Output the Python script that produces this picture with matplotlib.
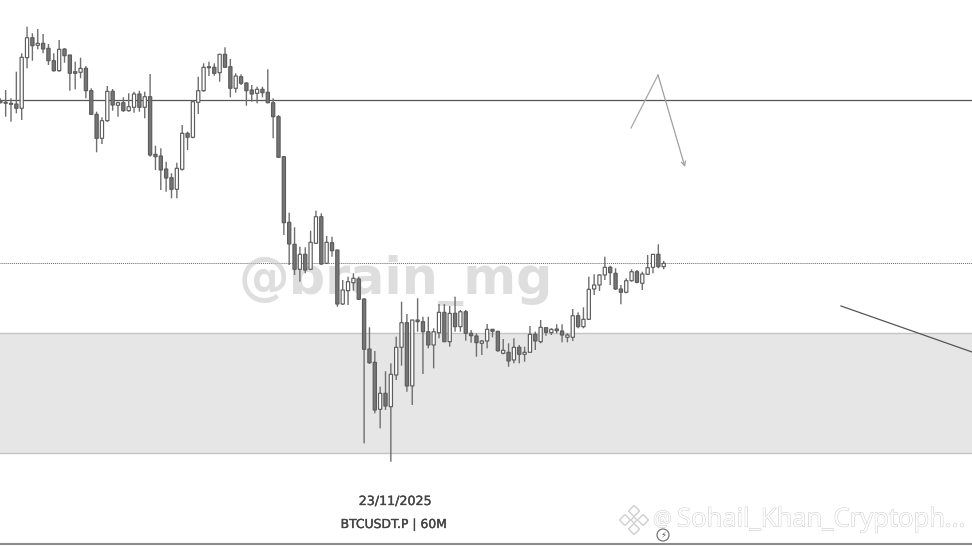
import matplotlib
matplotlib.use("Agg")
import matplotlib.pyplot as plt
import matplotlib.patheffects as pe
from matplotlib.patches import Circle, RegularPolygon
import numpy as np

# no price axis on the chart, so levels are in arbitrary chart units
opens = [445, 442.7, 442.7, 442, 437.7, 488.3, 508.3, 500.7, 502.7, 497.7, 485.3, 475.3, 497, 491, 474.3, 473.7, 477.7, 455.3, 431.7, 407.7,
         425.3, 454.7, 440.7, 443.3, 435.3, 438.7, 452, 438.7, 449.3, 391.7, 390, 377, 368.3, 356.7, 376.7, 412.7, 408.7, 443.7, 455.3, 478.3,
         478.7, 473.3, 491.7, 479.3, 457.7, 469.3, 463, 456, 452.7, 456.7, 453.7, 443.3, 429.3, 389.3, 323.7, 301.7, 276.7, 291.7, 276.7, 302.7,
         329.3, 282.7, 303.3, 296, 242, 255.3, 263.3, 267, 247, 197, 183.7, 136.7, 152.7, 139.3, 171, 198.7, 223.3, 160, 226, 224.3,
         214.3, 201, 213.3, 233.7, 204.3, 232.7, 219.3, 234.3, 212.7, 210, 202.7, 205, 216.7, 214.7, 192.7, 193.7, 186, 198.7, 191.7, 193.7,
         211.7, 204.3, 218.3, 213.3, 217, 215, 208.7, 208.7, 230.3, 219.3, 226.7, 257, 261, 271, 278.7, 272.7, 257, 253.7, 265.3, 274.3,
         262.7, 271.7, 278.7, 291.7, 279.3]
closes = [443.3, 443.7, 441.7, 437.7, 488.7, 508.3, 500.3, 502.7, 497, 485.3, 475.3, 496.7, 490.3, 472.7, 472.7, 477.7, 455.3, 431.7, 407.7, 425.3,
          454.7, 441, 443.3, 435.3, 439.3, 452, 438.7, 449.3, 391, 389.3, 376, 368, 356.7, 377.7, 412.7, 408.7, 444.3, 455.3, 478.7, 479.3,
          472.7, 491.7, 478.7, 457.7, 470, 462.7, 455.3, 452, 456.7, 453.3, 443.3, 429.3, 388.7, 323.3, 302, 276.7, 291.7, 276, 303.7, 329.3,
          282, 303.7, 295.3, 242, 256, 264.3, 267.7, 246.7, 196.7, 183.3, 136, 152.7, 140, 171.7, 198.7, 223.3, 160, 226, 224.3, 214.3,
          201, 214.3, 233.7, 204.3, 232.7, 219.3, 234.3, 212.7, 210.3, 203.3, 205, 216.7, 214.7, 195.3, 195.7, 185, 198.7, 191.7, 193.7, 211.7,
          205, 218.7, 213.7, 216.7, 215.3, 211, 211, 230.3, 219.3, 226.7, 256.7, 261, 271, 278.7, 273.3, 257, 253.7, 265.3, 274.3, 263.7,
          272, 278.3, 291.7, 279.3, 282.7]
highs = [447.7, 456, 447.7, 474.3, 492.7, 519.3, 512.7, 517, 512, 502, 492.7, 506, 497.7, 491, 484.3, 488.3, 480, 457.7, 434.3, 428.7,
         460, 457, 444.3, 448.7, 452.7, 454.3, 455.3, 454.3, 472, 400.3, 397.7, 384.3, 372.7, 383.3, 421, 414.3, 446, 469.3, 482.7, 484.3,
         482.7, 492, 498.7, 487, 472.7, 471.7, 463.7, 461, 459.3, 459.3, 476.7, 447.7, 431, 390, 333.3, 318.7, 299.3, 298.7, 315.3, 335.3,
         332.7, 310, 309.3, 296, 266, 269.3, 272.7, 269.3, 247.7, 218.7, 195, 159.3, 174.7, 182.7, 209.3, 244.3, 232, 226, 247.7, 229.3,
         229.3, 217.7, 242, 242, 240, 249.3, 236, 236, 216, 212.7, 206, 222, 217, 215, 207, 202.7, 207.7, 201, 199.3, 220,
         214.3, 226, 218.7, 217.7, 221.7, 221.7, 212.7, 237, 233.7, 238.7, 269.3, 271.7, 271.7, 289.3, 280.3, 277.7, 261, 267.7, 276.7, 276,
         274.3, 291, 292, 301.7, 285]
lows = [442.7, 429.3, 424.3, 432.7, 426, 477.7, 485.3, 496.7, 492.7, 481, 474.3, 474.3, 483.3, 455.3, 456.7, 467.7, 447.7, 431, 393.7, 402,
        424.3, 435.3, 429.3, 434.3, 434.3, 433.3, 434.3, 427.7, 389.3, 376, 356, 354.3, 347.7, 347.7, 375.3, 396, 407.7, 432, 454.3, 470,
        470.3, 464.3, 478.7, 448.7, 453.3, 461, 440.3, 444.3, 442.7, 448.7, 442.7, 407.7, 388.7, 311, 281, 271, 264.3, 272.7, 276, 302,
        281, 282, 289.3, 239.3, 241, 241, 255.3, 246, 102.7, 182, 132.7, 117.7, 136, 84.3, 166, 180.3, 154.3, 141, 214.3, 172,
        197.7, 177.7, 207.7, 204.3, 199.3, 214.3, 214.3, 205.3, 203.3, 189.3, 191, 197.7, 208.7, 194.3, 191.7, 179.3, 182.7, 182.7, 184.3, 193.7,
        196, 202.7, 210.3, 211, 212.7, 203.7, 203.7, 205, 217.7, 217.7, 226, 251, 255, 266, 261, 256, 241.7, 252.7, 264.3, 262.7,
        256, 271, 272.7, 277.7, 276.7]

resistance = 446.5
midline = 282.8
zone_top = 213
zone_bottom = 93
date_label = "23/11/2025"
pair_label = "BTCUSDT.P | 60M"
watermark = "@brain_mg"
author = "Sohail_Khan_Cryptoph..."

W, H = 972, 546
fig = plt.figure(figsize=(W / 100, H / 100), dpi=100, facecolor="white")

ax = fig.add_axes([0, 0, 1, 1])
ax.set_xlim(-0.3 / 5.35, (W - 0.3) / 5.35)
ax.set_ylim(0, H)
ax.axis("off")

idx = np.arange(len(opens))
o = np.array(opens)
c = np.array(closes)
up = c >= o
dark = "#5c5c5c"

ax.axhspan(zone_bottom, zone_top, color="#e6e6e6", lw=0, zorder=0)
ax.axhline(zone_top, color="#c4c4c4", lw=1, zorder=1)
ax.axhline(zone_bottom, color="#c4c4c4", lw=1, zorder=1)
ax.axhline(resistance, color="#555555", lw=0.9, zorder=1)
ax.axhline(midline, color="#666666", lw=0.7, ls=(0, (1, 1)), zorder=1)

# snapping off keeps the candle spacing even
wicks = ax.vlines(idx, lows, highs, color="#6e6e6e", lw=1.0, zorder=2)
wicks.set_snap(False)
for mask, fill in [(up, "white"), (~up, "#767676")]:
    bars = ax.bar(idx[mask], (c - o)[mask], bottom=o[mask], width=0.6, facecolor=fill, edgecolor=dark, lw=0.85, zorder=3)
    for b in bars:
        b.set_snap(False)

# overlay in image pixels for drawings and labels
ov = fig.add_axes([0, 0, 1, 1], facecolor="none")
ov.set_xlim(0, W)
ov.set_ylim(H, 0)
ov.axis("off")

ov.plot([631, 658], [128, 75], color="#a8a8a8", lw=0.9)
ov.annotate("", xy=(685, 167), xytext=(658, 75),
            arrowprops=dict(arrowstyle="->,head_length=0.3,head_width=0.15", color="#a0a0a0", lw=0.9, shrinkA=0, shrinkB=0))
ov.plot([841, 972], [306, 352], color="#555555", lw=0.9)
ov.plot([0, W], [544, 544], color="#8c8c8c", lw=1.5)

# watermark sits under the candles
ax.text(396, 281, watermark, fontsize=36.5, fontweight="bold", family="DejaVu Sans", transform=ov.transData,
        color="#c8c8c8", alpha=0.6, ha="center", va="center", zorder=1.5)

label_fx = [pe.withStroke(linewidth=0.25, foreground="#444444")]
ov.text(395, 501.5, date_label, fontsize=9.1, color="#444444", ha="center", va="center", path_effects=label_fx)
ov.text(394, 524.5, pair_label, fontsize=8.9, color="#444444", ha="center", va="center", path_effects=label_fx)

# exchange repost mark at the bottom right
outline = [pe.withStroke(linewidth=0.6, foreground="#c4c4c4")]
ov.text(653, 520, "@", fontsize=15, family="Open Sans", color="white", ha="left", va="center", path_effects=outline)
ov.text(677, 520, author, fontsize=18.5, family="Open Sans", color="white", ha="left", va="center", path_effects=outline)
for dx, dy, r in [(0, -9, 5.5), (0, 9, 5.5), (-9, 0, 5.5), (9, 0, 5.5), (0, 0, 3)]:
    ov.add_patch(RegularPolygon((634 + dx, 520 + dy), 4, radius=r, facecolor="white", edgecolor="#cfcfcf", lw=1))
ov.add_patch(Circle((663, 535), 6, facecolor="white", edgecolor="#777777", lw=0.9))
ov.text(663, 535, "⚡", fontsize=6, color="#555555", ha="center", va="center")

fig.savefig("out.png", dpi=100)
